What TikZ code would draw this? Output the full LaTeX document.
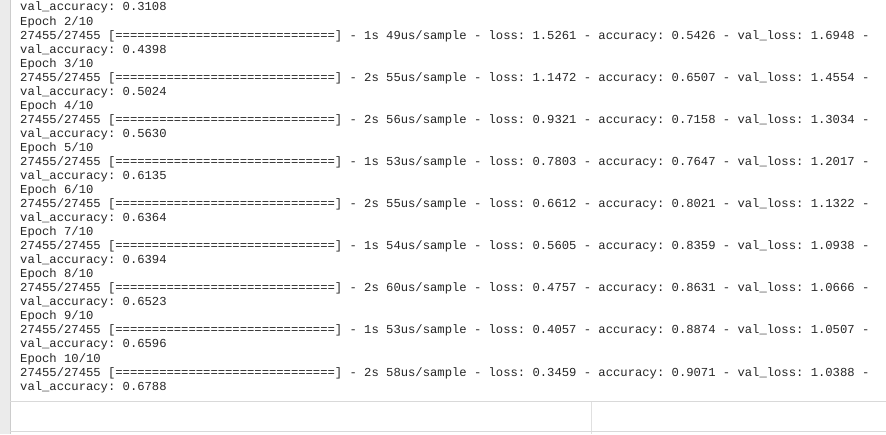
\documentclass[tikz,border=0pt]{standalone}
\usepackage{fontspec}
\setmonofont{Liberation Mono}
\begin{document}
\begin{tikzpicture}[x=1pt,y=1pt,
  ln/.style={anchor=base west,inner sep=0pt,font=\ttfamily\fontsize{12.2}{14}\selectfont,text=black!85}]
\useasboundingbox (0,0) rectangle (886,434);
\fill[white] (0,0) rectangle (886,434);
\fill[black!8] (0,0) rectangle (10,434);
\draw[black!20] (10,0) -- (10,434);
\draw[black!15] (10,33) -- (886,33);
\draw[black!12] (591,0) -- (591,32);
\draw[black!15] (10,3) -- (886,3);
\def\bar{[==============================]}
\newcommand\lineat[2]{\node[ln] at (20,{423-14.04*#1}) {#2};}
\lineat{0}{val\_accuracy: 0.3108}
\foreach \e/\t/\us/\l/\a/\vl/\va [count=\i] in {
 2/1/49/1.5261/0.5426/1.6948/0.4398,
 3/2/55/1.1472/0.6507/1.4554/0.5024,
 4/2/56/0.9321/0.7158/1.3034/0.5630,
 5/1/53/0.7803/0.7647/1.2017/0.6135,
 6/2/55/0.6612/0.8021/1.1322/0.6364,
 7/1/54/0.5605/0.8359/1.0938/0.6394,
 8/2/60/0.4757/0.8631/1.0666/0.6523,
 9/1/53/0.4057/0.8874/1.0507/0.6596,
 10/2/58/0.3459/0.9071/1.0388/0.6788}{
 \pgfmathsetmacro\k{3*\i-2}
 \node[ln] (ep\i) at (20,{423-14.04*\k}) {Epoch \e/10};
 \node[ln] (tr\i) at (20,{423-14.04*(\k+1)}) {27455/27455 \bar{} - \t s \us us/sample - loss: \l{} - accuracy: \a{} - val\_loss: \vl{} -};
 \node[ln] (va\i) at (20,{423-14.04*(\k+2)}) {val\_accuracy: \va};
}
\end{tikzpicture}
\end{document}
